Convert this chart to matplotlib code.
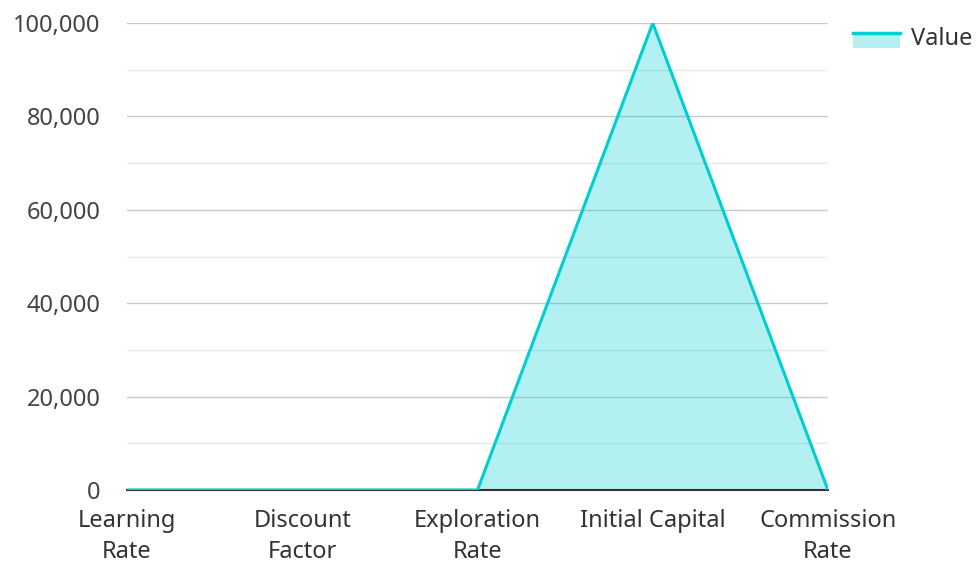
import numpy as np
import matplotlib
matplotlib.use("Agg")
import matplotlib.pyplot as plt
from matplotlib.legend_handler import HandlerBase
from matplotlib.patches import Rectangle
from matplotlib.lines import Line2D
from matplotlib.ticker import FuncFormatter, MultipleLocator

plt.rcParams['font.family'] = ['Noto Sans', 'DejaVu Sans']

categories = ['Learning\nRate', 'Discount\nFactor', 'Exploration\nRate', 'Initial Capital', 'Commission\nRate']
values = [0.001, 0.99, 0.1, 100000, 0.001]

line_color = '#00CED1'


class AreaHandler(HandlerBase):
    # filled box with the line drawn along its top edge
    def create_artists(self, legend, orig_handle, xdescent, ydescent, width, height, fontsize, trans):
        rect = Rectangle((-xdescent, -ydescent - height * 0.2), width, height * 0.9,
                         facecolor=line_color, alpha=0.3, edgecolor='none', transform=trans)
        ln = Line2D([-xdescent, -xdescent + width], [-ydescent + height * 0.7] * 2,
                    color=line_color, lw=2.5, transform=trans)
        return [rect, ln]


fig = plt.figure(figsize=(9.77, 5.63), dpi=100)
ax = fig.add_axes([0.130, 0.1297, 0.7175, 0.8293])

x = np.arange(len(categories))
ax.fill_between(x, values, 0, color=line_color, alpha=0.3, lw=0, zorder=2)
ax.plot(x, values, color=line_color, lw=2.2, zorder=3)

ax.set_xlim(0, len(categories) - 1)
ax.set_ylim(0, 100000)
ax.yaxis.set_major_locator(MultipleLocator(20000))
ax.yaxis.set_minor_locator(MultipleLocator(10000))
ax.yaxis.set_major_formatter(FuncFormatter(lambda v, p: '{:,.0f}'.format(v)))
ax.set_axisbelow(True)
ax.grid(axis='y', which='major', color='#c8c8c8', lw=1)
ax.grid(axis='y', which='minor', color='#e8e8e8', lw=1)

ax.set_xticks(x)
ax.set_xticklabels(categories)
for s in ['top', 'right', 'left']:
    ax.spines[s].set_visible(False)
ax.spines['bottom'].set_color('#333333')
ax.spines['bottom'].set_linewidth(1.5)
ax.tick_params(axis='x', length=0, pad=13.5, labelsize=17, labelcolor='#333333')
ax.tick_params(axis='y', which='both', length=0, pad=19, labelsize=17, labelcolor='#444444')
for lbl in ax.get_xticklabels():
    lbl.set_linespacing(1.42)

fig.legend([object()], ['Value'], handler_map={object: AreaHandler()},
           loc='upper left', bbox_to_anchor=(0.8516, 0.99), frameon=False,
           fontsize=17, handlelength=2.0, handletextpad=0.45, labelcolor='#333333')

fig.savefig('out.png', dpi=100)
